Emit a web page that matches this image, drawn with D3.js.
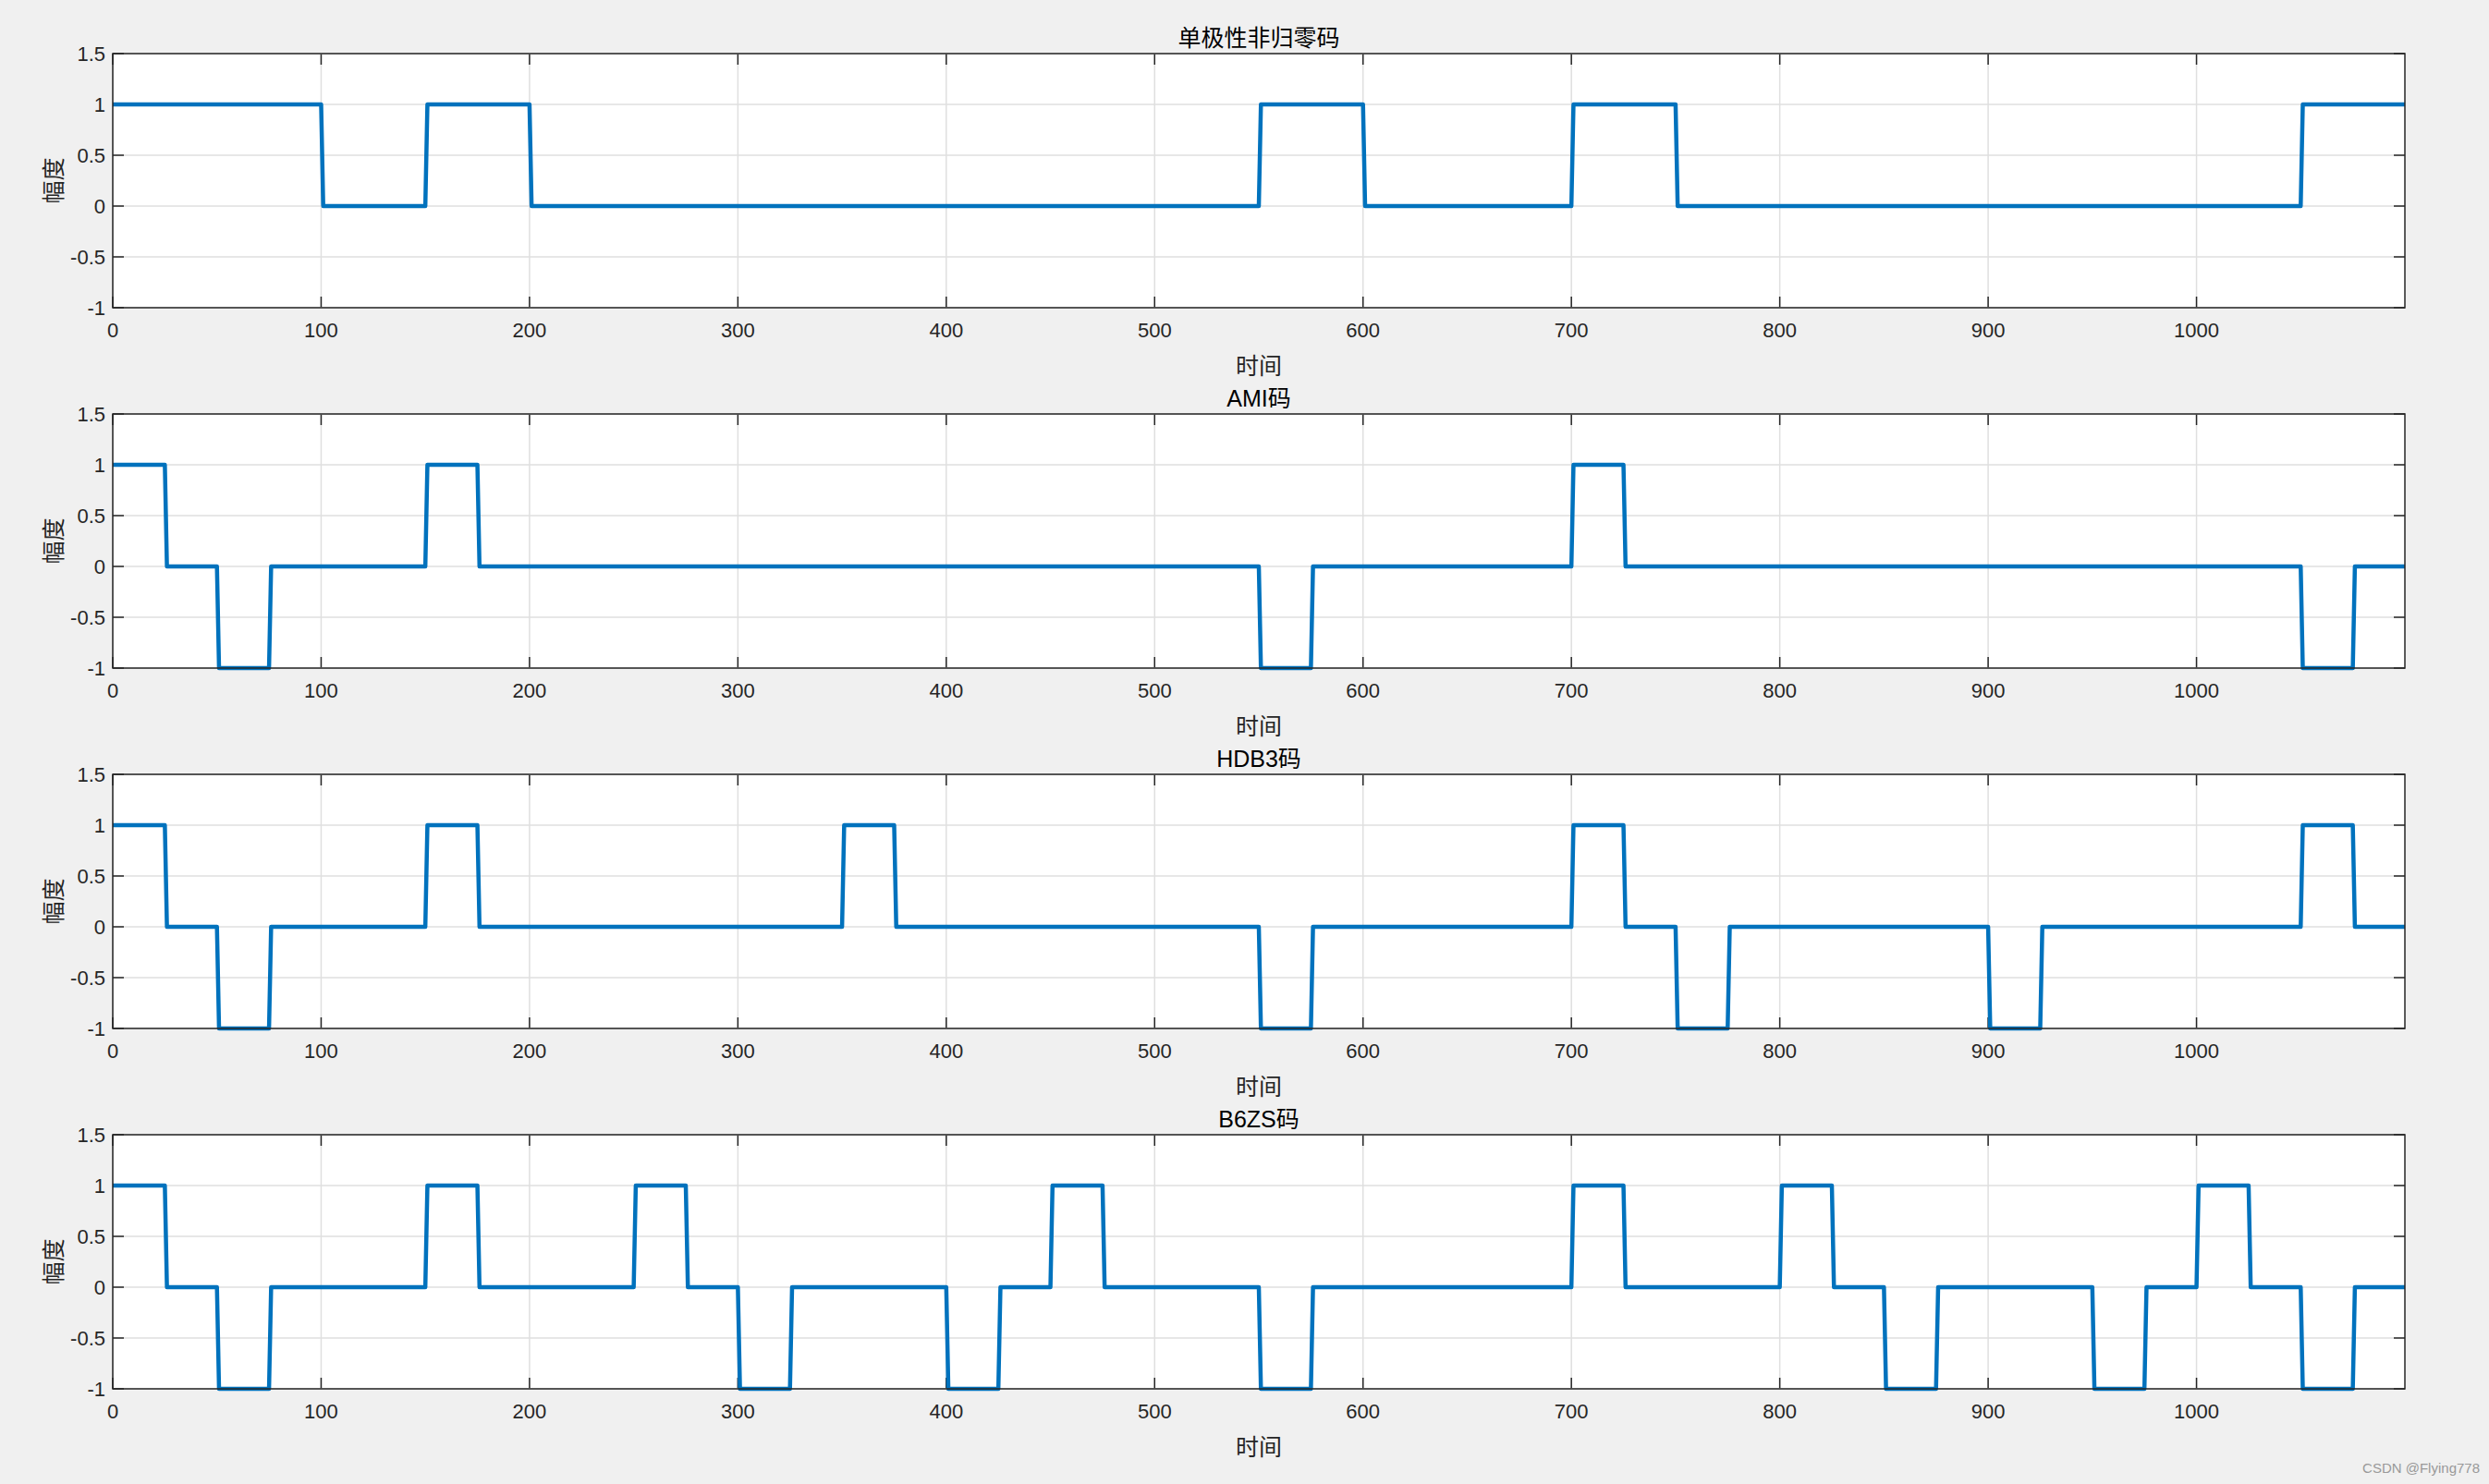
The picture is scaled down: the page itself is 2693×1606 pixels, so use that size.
<!DOCTYPE html>
<html><head><meta charset="utf-8">
<script src="https://cdn.jsdelivr.net/npm/d3@7"></script>
<style>body{margin:0;background:#f0f0f0}svg{display:block}</style>
</head><body>
<script>
const titles = ["单极性非归零码","AMI码","HDB3码","B6ZS码"];
// values per 25-time-unit slot (44 slots, 0..1100)
const nrz  = [1,1,1,1,0,0,1,1,0,0,0,0,0,0,0,0,0,0,0,0,0,0,1,1,0,0,0,0,1,1,0,0,0,0,0,0,0,0,0,0,0,0,1,1];
const ami  = [1,0,-1,0,0,0,1,0,0,0,0,0,0,0,0,0,0,0,0,0,0,0,-1,0,0,0,0,0,1,0,0,0,0,0,0,0,0,0,0,0,0,0,-1,0];
const hdb3 = [1,0,-1,0,0,0,1,0,0,0,0,0,0,0,1,0,0,0,0,0,0,0,-1,0,0,0,0,0,1,0,-1,0,0,0,0,0,-1,0,0,0,0,0,1,0];
const b6zs = [1,0,-1,0,0,0,1,0,0,0,1,0,-1,0,0,0,-1,0,1,0,0,0,-1,0,0,0,0,0,1,0,0,0,1,0,-1,0,0,0,-1,0,1,0,-1,0];
const series = [nrz, ami, hdb3, b6zs];
const xTicks = [0,100,200,300,400,500,600,700,800,900,1000];
const yTicks = [-1,-0.5,0,0.5,1,1.5];
const slot = 25;

const W=2693,H=1606;
const svg=d3.select("body").append("svg").attr("width",W).attr("height",H);
svg.append("rect").attr("width",W).attr("height",H).attr("fill","#f0f0f0");
const L=122,R=2602, tops=[58,448,838,1228], ph=275;
const font="Arial, 'Liberation Sans', 'Noto Sans CJK SC', sans-serif";
const x=d3.scaleLinear().domain([0,1100]).range([L,R]);

series.forEach((data,k)=>{
  const t=tops[k];
  const y=d3.scaleLinear().domain([-1,1.5]).range([t+ph,t]);
  const g=svg.append("g");
  g.append("rect").attr("x",L).attr("y",t).attr("width",R-L).attr("height",ph).attr("fill","#fff");
  xTicks.forEach(v=>{
    g.append("line").attr("x1",x(v)).attr("x2",x(v)).attr("y1",t).attr("y2",t+ph).attr("stroke","#dfdfdf").attr("stroke-width",1.5);
    g.append("line").attr("x1",x(v)).attr("x2",x(v)).attr("y1",t+ph).attr("y2",t+ph-12).attr("stroke","#262626").attr("stroke-width",1.5);
    g.append("line").attr("x1",x(v)).attr("x2",x(v)).attr("y1",t).attr("y2",t+12).attr("stroke","#262626").attr("stroke-width",1.5);
    g.append("text").attr("x",x(v)).attr("y",t+ph+32).attr("text-anchor","middle").attr("font-family",font).attr("font-size",22).attr("fill","#262626").text(v);
  });
  yTicks.forEach(v=>{
    g.append("line").attr("x1",L).attr("x2",R).attr("y1",y(v)).attr("y2",y(v)).attr("stroke","#dfdfdf").attr("stroke-width",1.5);
    g.append("line").attr("x1",L).attr("x2",L+12).attr("y1",y(v)).attr("y2",y(v)).attr("stroke","#262626").attr("stroke-width",1.5);
    g.append("line").attr("x1",R).attr("x2",R-12).attr("y1",y(v)).attr("y2",y(v)).attr("stroke","#262626").attr("stroke-width",1.5);
    g.append("text").attr("x",L-8).attr("y",y(v)+8).attr("text-anchor","end").attr("font-family",font).attr("font-size",22).attr("fill","#262626").text(v);
  });
  const pts=[];
  data.forEach((v,i)=>{pts.push([i*slot+(i?1:0),v]);pts.push([(i+1)*slot,v]);});
  g.append("path").attr("d",d3.line().x(d=>x(d[0])).y(d=>y(d[1]))(pts)).attr("fill","none").attr("stroke","#0072BD").attr("stroke-width",4.5).attr("stroke-linejoin","round");
  g.append("rect").attr("x",L).attr("y",t).attr("width",R-L).attr("height",ph).attr("fill","none").attr("stroke","#262626").attr("stroke-width",1.5);
  g.append("text").attr("x",(L+R)/2).attr("y",t-8).attr("text-anchor","middle").attr("font-family",font).attr("font-size",25).attr("fill","#000").text(titles[k]);
  g.append("text").attr("x",(L+R)/2).attr("y",t+ph+72).attr("text-anchor","middle").attr("font-family",font).attr("font-size",25).attr("fill","#262626").text("时间");
  g.append("text").attr("transform",`translate(${L-55},${t+ph/2}) rotate(-90)`).attr("text-anchor","middle").attr("font-family",font).attr("font-size",25).attr("fill","#262626").text("幅度");
});
svg.append("text").attr("x",W-10).attr("y",H-12).attr("text-anchor","end").attr("font-family",font).attr("font-size",15).attr("fill","#999").text("CSDN @Flying778");
</script>
</body></html>
